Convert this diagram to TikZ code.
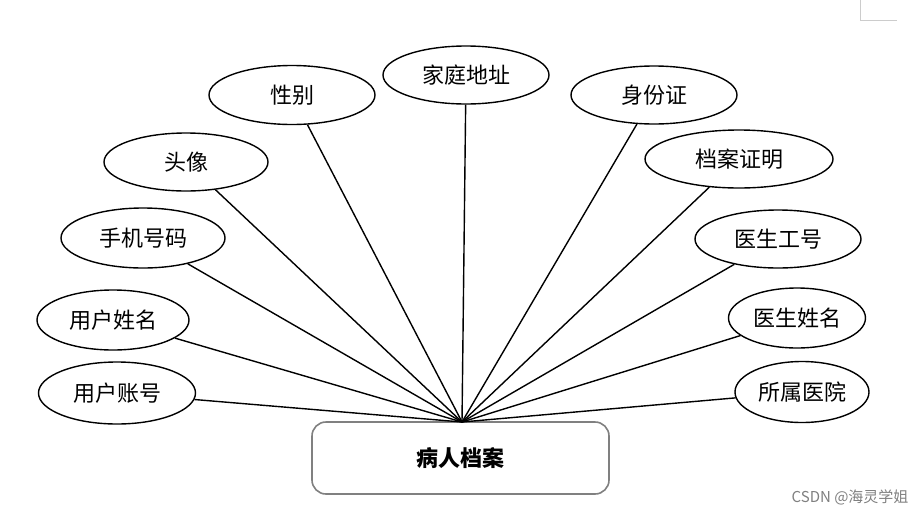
\documentclass[tikz,border=0pt]{standalone}
\usepackage{fontspec}
\usetikzlibrary{shapes.geometric}
\newfontfamily\cjk{Noto Sans CJK SC}
\begin{document}
\begin{tikzpicture}[x=1pt,y=-1pt,
  attr/.style={draw,line width=1.4pt,ellipse,inner sep=0pt,font=\cjk\fontsize{22}{22}\selectfont},
  link/.style={line width=1.4pt}]
\useasboundingbox (0,0) rectangle (924,515);
\fill[white] (0,0) rectangle (924,515);
\draw[gray!40] (860,0) -- (860,20) -- (897,20);
\node[draw=gray,line width=1.6pt,rounded corners=14pt,minimum width=297pt,minimum height=72pt,font=\cjk\bfseries\fontsize{22}{22}\selectfont] (e) at (460.5,458) {病人档案};
\coordinate (c) at (462,422);
\foreach \n/\x/\y/\w/\h/\t in {
 a/117/393/157/62/用户账号,
 b/113/320/152/60/用户姓名,
 d/143/238/164/60/手机号码,
 f/186/162/164/58/头像,
 g/292/95/166/59/性别,
 h/466/75/166/58/家庭地址,
 i/654/95/166/58/身份证,
 j/739/159/188/58/档案证明,
 k/778/239/166/58/医生工号,
 l/797/318/137/60/医生姓名,
 m/802/392/134/61/所属医院}{
  \node[attr,minimum width=\w pt,minimum height=\h pt] (\n) at (\x,\y) {\t};
  \draw[link] (\n) -- (c);
}
\node[font=\cjk\fontsize{15}{15}\selectfont,text=gray,anchor=east] (wm) at (912,497) {CSDN @海灵学姐};
\end{tikzpicture}
\end{document}
